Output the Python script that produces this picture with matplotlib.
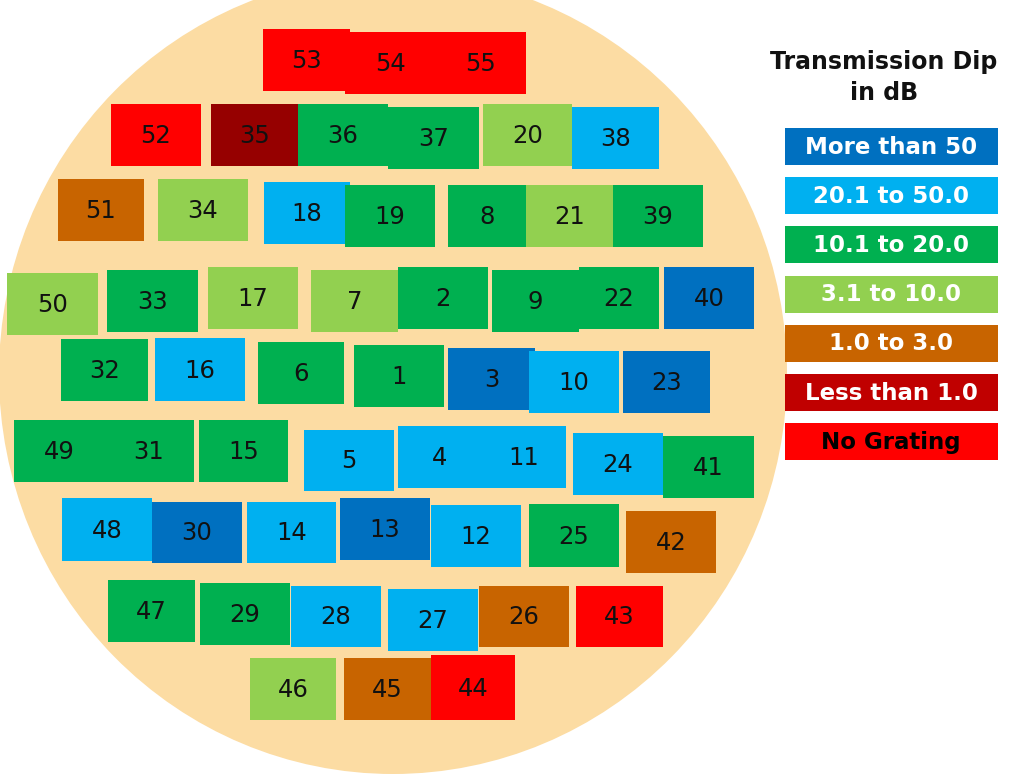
import matplotlib.pyplot as plt
from matplotlib.patches import Ellipse

# die numbers, their class and where they sit on the wafer (image pixels)
die_ids = [53, 54, 55, 52, 35, 36, 37, 20, 38,
           51, 34, 18, 19, 8, 21, 39,
           50, 33, 17, 7, 2, 9, 22, 40,
           32, 16, 6, 1, 3, 10, 23,
           49, 31, 15, 5, 4, 11, 24, 41,
           48, 30, 14, 13, 12, 25, 42,
           47, 29, 28, 27, 26, 43,
           46, 45, 44]
die_class = ["ng", "ng", "ng", "ng", "lt1", "g10", "g10", "g3", "g20",
             "g1", "g3", "g20", "g10", "g10", "g3", "g10",
             "g3", "g10", "g3", "g3", "g10", "g10", "g10", "g50",
             "g10", "g20", "g10", "g10", "g50", "g20", "g50",
             "g10", "g10", "g10", "g20", "g20", "g20", "g20", "g10",
             "g20", "g50", "g20", "g50", "g20", "g10", "g1",
             "g10", "g10", "g20", "g20", "g1", "ng",
             "g3", "g1", "ng"]
die_left = [263, 345, 436, 111, 211, 298, 388, 483, 572,
            58, 158, 264, 345, 448, 526, 613,
            7, 107, 208, 311, 398, 492, 579, 664,
            61, 155, 258, 354, 448, 529, 623,
            14, 104, 199, 304, 398, 482, 573, 663,
            62, 152, 247, 340, 431, 529, 626,
            108, 200, 291, 388, 479, 576,
            250, 344, 431]
die_top = [29, 32, 32, 104, 104, 104, 107, 104, 107,
           179, 179, 182, 185, 185, 185, 185,
           273, 270, 267, 270, 267, 270, 267, 267,
           339, 338, 342, 345, 348, 351, 351,
           420, 420, 420, 430, 426, 426, 433, 436,
           498, 502, 502, 498, 505, 504, 511,
           580, 583, 586, 589, 586, 586,
           658, 658, 655]
die_right = [350, 436, 526, 201, 298, 388, 479, 572, 659,
             144, 248, 350, 435, 526, 613, 703,
             98, 198, 298, 398, 488, 579, 659, 754,
             148, 245, 344, 444, 535, 619, 710,
             104, 194, 288, 394, 482, 566, 663, 754,
             152, 242, 336, 430, 521, 619, 716,
             195, 290, 381, 478, 569, 663,
             336, 431, 515]
die_bottom = [91, 94, 94, 166, 166, 166, 169, 166, 169,
              241, 241, 244, 247, 247, 247, 247,
              335, 332, 329, 332, 329, 332, 329, 329,
              401, 401, 404, 407, 410, 413, 413,
              482, 482, 482, 491, 488, 488, 495, 498,
              561, 563, 563, 560, 567, 567, 573,
              642, 645, 647, 651, 647, 647,
              720, 720, 720]

legend_keys = ["g50", "g20", "g10", "g3", "g1", "lt1", "ng"]
legend_labels = ["More than 50", "20.1 to 50.0", "10.1 to 20.0", "3.1 to 10.0",
                 "1.0 to 3.0", "Less than 1.0", "No Grating"]

die_colors = {"g50": "#0070C0", "g20": "#00B0F0", "g10": "#00B050", "g3": "#92D050",
              "g1": "#C86400", "lt1": "#960000", "ng": "#FF0000"}
legend_colors = dict(die_colors, lt1="#C00000")
legend_text_colors = ["white"] * 6 + ["black"]

fig = plt.figure(figsize=(10.12, 7.83), dpi=100)
ax = fig.add_axes([0, 0, 1, 1])
ax.set_xlim(0, 1012)
ax.set_ylim(783, 0)
ax.axis("off")

# the wafer
ax.add_patch(Ellipse((393, 374), 788, 800, facecolor="#FCDCA3", edgecolor="none", zorder=0))

# dies
for i, d in enumerate(die_ids):
    w = die_right[i] - die_left[i]
    h = die_bottom[i] - die_top[i]
    ax.bar(die_left[i], h, width=w, bottom=die_top[i], align="edge",
           color=die_colors[die_class[i]], edgecolor="none", zorder=2)
    ax.text(die_left[i] + w / 2, die_top[i] + h / 2 + 1, str(d), ha="center", va="center",
            fontsize=17.5, color="#111111", zorder=3)

# legend
ax.text(884, 62, "Transmission Dip", ha="center", va="center", fontsize=17,
        fontweight="bold", color="#111111")
ax.text(884, 93, "in dB", ha="center", va="center", fontsize=17,
        fontweight="bold", color="#111111")
box_top = 128
for k, (key, lab) in enumerate(zip(legend_keys, legend_labels)):
    y0 = box_top + k * 49.2
    ax.bar(785, 37, width=213, bottom=y0, align="edge", color=legend_colors[key],
           edgecolor="none", zorder=2)
    ax.text(891, y0 + 19, lab, ha="center", va="center", fontsize=16.5,
            fontweight="bold", color=legend_text_colors[k], zorder=3)

fig.savefig("out.png", dpi=100)
